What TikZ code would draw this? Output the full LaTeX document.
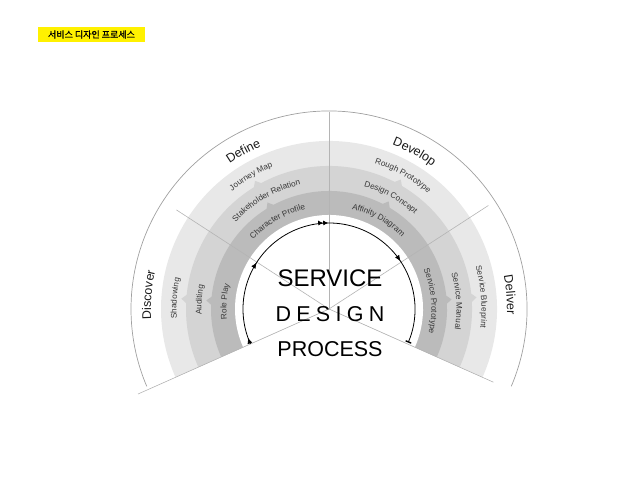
\documentclass[tikz,border=0pt]{standalone}
\usepackage{fontspec}
\setmainfont{Liberation Sans}
\newfontfamily\krfont{Noto Sans CJK KR}[FakeBold=1.2]
\usetikzlibrary{decorations.text,decorations.markings,arrows.meta,calc}
\definecolor{bandA}{HTML}{E8E8E8}
\definecolor{bandB}{HTML}{D4D4D4}
\definecolor{bandC}{HTML}{BBBBBB}
\definecolor{spokegray}{HTML}{B4B4B4}
\definecolor{rimgray}{HTML}{A0A0A0}
\definecolor{labtxt}{HTML}{383838}
\definecolor{stagetxt}{HTML}{1A1A1A}
\definecolor{titleyellow}{HTML}{FFF100}
\newcommand\myarclabel[4]{%
  \path[decorate, decoration={text along path, text align=center,
    text={|\fontsize{#3}{#3}\selectfont\color{labtxt}|#4}}]
    ($(C)+({#1+40}:#2pt)$) arc[start angle={#1+40}, end angle={#1-40}, radius=#2pt];}
\newcommand\mystagelabel[3]{%
  \path[decorate, decoration={text along path, text align=center,
    text={|\fontsize{12.5}{12.5}\selectfont\color{stagetxt}|#3}}]
    ($(C)+({#1+40}:#2pt)$) arc[start angle={#1+40}, end angle={#1-40}, radius=#2pt];}
\begin{document}
\begin{tikzpicture}[x=1pt,y=1pt,
  spokeline/.style={draw=spokegray, line width=0.6pt},
  rimline/.style={draw=rimgray, line width=0.7pt},
  bigword/.style={anchor=base, inner sep=0pt, text=black},
  flowarc/.style={line width=0.8pt, black}]
\useasboundingbox (0,0) rectangle (638,478);
\coordinate (C) at (329,169);
% title
\node[fill=titleyellow, minimum width=107pt, minimum height=15pt, inner sep=0pt,
  font=\krfont\fontsize{9}{10}\selectfont] (title) at (91.5,443.5) {서비스 디자인 프로세스};
% bands
\fill[bandA] (C) -- ($(C)+(-24:168pt)$) arc[start angle=-24, end angle=204, radius=168pt] -- cycle;
\foreach \a in {176,120,61,4.5}{
  \fill[bandB] ($(C)+({\a+2.4}:141pt)$) -- ($(C)+(\a:148pt)$) -- ($(C)+({\a-2.4}:141pt)$) -- cycle;}
\fill[bandB] (C) -- ($(C)+(-24:143pt)$) arc[start angle=-24, end angle=204, radius=143pt] -- cycle;
\foreach \a in {176,120,61,4.5}{
  \fill[bandC] ($(C)+({\a+2.8}:116pt)$) -- ($(C)+(\a:123pt)$) -- ($(C)+({\a-2.8}:116pt)$) -- cycle;}
\fill[bandC] (C) -- ($(C)+(-24:118pt)$) arc[start angle=-24, end angle=204, radius=118pt] -- cycle;
\fill[white] (C) -- ($(C)+(-24:94pt)$) arc[start angle=-24, end angle=204, radius=94pt] -- cycle;
% spokes
\coordinate (s1) at ($(C)+(204:209pt)$);
\coordinate (s2) at ($(C)+(147:182pt)$);
\coordinate (s3) at ($(C)+(90:197pt)$);
\coordinate (s4) at ($(C)+(33:190pt)$);
\coordinate (s5) at ($(C)+(-24:180pt)$);
\foreach \s in {s1,s2,s3,s4,s5}{\draw[spokeline] (C) -- (\s);}
% outer rim
\draw[rimline] ($(C)+(-23:198pt)$) arc[start angle=-23, end angle=203, radius=198pt];
% inner flow arc
\draw[flowarc, -{Bar[width=6pt,line width=1.4pt]},
  postaction={decorate}, decoration={markings,
    mark=at position 0.02 with {\arrow{Latex[length=6pt,width=5pt]}},
    mark=at position 0.25 with {\arrow{Latex[length=6pt,width=5pt]}},
    mark=at position 0.5 with {\arrow{Latex[length=5pt,width=5pt] Latex[length=5pt,width=5pt]}},
    mark=at position 0.75 with {\arrow{Latex[length=6pt,width=5pt]}}}]
  ($(C)+(204:86pt)$) arc[start angle=204, end angle=-23, radius=86pt];
% central title
\node[bigword, font=\fontsize{24}{24}\selectfont] (w1) at (330,191) {SERVICE};
\node[bigword, font=\fontsize{21.5}{21.5}\selectfont] (w2) at (330,156)
  {D\kern5.3pt E\kern5.3pt S\kern5.3pt I\kern5.3pt G\kern5.3pt N};
\node[bigword, font=\fontsize{21.5}{21.5}\selectfont] (w3) at (330,121) {PROCESS};
% stage labels
\mystagelabel{175.5}{178}{Discover}
\mystagelabel{118.5}{176}{Define}
\mystagelabel{61.5}{176}{Develop}
\mystagelabel{4.5}{178}{Deliver}
% band labels
\myarclabel{176}{152.5}{8.2}{Shadowing}
\myarclabel{176}{127.5}{8.2}{Auditing}
\myarclabel{176}{102.5}{8.2}{Role Play}
\myarclabel{120.5}{152.5}{8.2}{Journey Map}
\myarclabel{120}{127.5}{8.2}{Stakeholder Relation}
\myarclabel{120.5}{102.5}{8.2}{Character Profile}
\myarclabel{61}{152.5}{8.2}{Rough Prototype}
\myarclabel{61}{127.5}{8.2}{Design Concept}
\myarclabel{61}{102.5}{8.2}{Affinity Diagram}
\myarclabel{4.5}{152.5}{8.2}{Service Blueprint}
\myarclabel{3.5}{127.5}{8.2}{Service Manual}
\myarclabel{4.5}{102.5}{8.2}{Service Prototype}
\end{tikzpicture}
\end{document}
